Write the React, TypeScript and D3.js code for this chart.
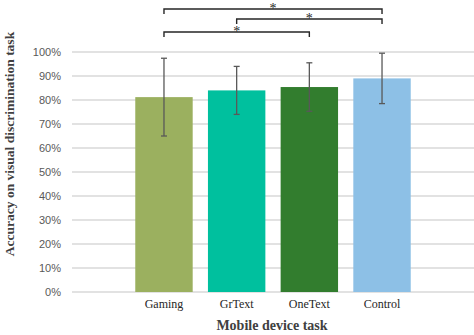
import React from "react";
import * as d3 from "d3";

const categories = ["Gaming", "GrText", "OneText", "Control"];
const means = [0.812, 0.84, 0.854, 0.89];
const errors = [0.162, 0.10, 0.101, 0.105];
const colors = ["#9BB05F", "#00C09E", "#327D2E", "#8DC0E6"];
const yTicks = [0, 0.1, 0.2, 0.3, 0.4, 0.5, 0.6, 0.7, 0.8, 0.9, 1.0];
const comparisons: [string, string, number][] = [
  ["Gaming", "Control", 0],
  ["GrText", "Control", 1],
  ["Gaming", "OneText", 2],
];

export default function App() {
  const W = 474, H = 335;
  const x = d3.scaleBand<string>().domain(categories).range([128, 418]).paddingInner(0.21).paddingOuter(0.1);
  const y = d3.scaleLinear().domain([0, 1]).range([292, 52]);
  const bracketY = [9, 19, 32];
  const tickLen = 5;
  return (
    <svg width={W} height={H} style={{ position: "absolute", left: 0, top: 0, background: "#fff" }}>
      {yTicks.map((t) => (
        <g key={t}>
          <line x1={72} x2={474} y1={y(t)} y2={y(t)} stroke="#d9d9d9" strokeWidth={1.3} />
          <text x={61} y={y(t)} dy="0.35em" textAnchor="end" fontFamily="Liberation Sans, Arial, sans-serif" fontSize={11} fill="#595959">
            {d3.format(".0%")(t)}
          </text>
        </g>
      ))}
      {categories.map((c, i) => {
        const cx = x(c)! + x.bandwidth() / 2;
        return (
          <g key={c}>
            <rect x={x(c)} y={y(means[i])} width={x.bandwidth()} height={y(0) - y(means[i])} fill={colors[i]} />
            <line x1={cx} x2={cx} y1={y(means[i] + errors[i])} y2={y(means[i] - errors[i])} stroke="#595959" strokeWidth={1.3} />
            <line x1={cx - 3} x2={cx + 3} y1={y(means[i] + errors[i])} y2={y(means[i] + errors[i])} stroke="#595959" strokeWidth={1.3} />
            <line x1={cx - 3} x2={cx + 3} y1={y(means[i] - errors[i])} y2={y(means[i] - errors[i])} stroke="#595959" strokeWidth={1.3} />
            <text x={cx} y={308} textAnchor="middle" fontFamily="Liberation Serif, Times New Roman, serif" fontSize={12} fill="#262626">
              {c}
            </text>
          </g>
        );
      })}
      {comparisons.map(([a, b, lvl]) => {
        const x1 = x(a)! + x.bandwidth() / 2;
        const x2 = x(b)! + x.bandwidth() / 2;
        const by = bracketY[lvl];
        return (
          <g key={a + b}>
            <path d={`M${x1},${by + tickLen}V${by}H${x2}V${by + tickLen}`} fill="none" stroke="#262626" strokeWidth={1.4} />
            <text x={(x1 + x2) / 2} y={by + 4} textAnchor="middle" fontFamily="Liberation Serif, Times New Roman, serif" fontSize={14} fill="#262626">
              *
            </text>
          </g>
        );
      })}
      <text x={272} y={330} textAnchor="middle" fontFamily="Liberation Serif, Times New Roman, serif" fontWeight="bold" fontSize={14} fill="#404040">
        Mobile device task
      </text>
      <text transform="translate(14,144) rotate(-90)" textAnchor="middle" fontFamily="Liberation Serif, Times New Roman, serif" fontWeight="bold" fontSize={13.5} fill="#404040">
        Accuracy on visual discrimination task
      </text>
    </svg>
  );
}
